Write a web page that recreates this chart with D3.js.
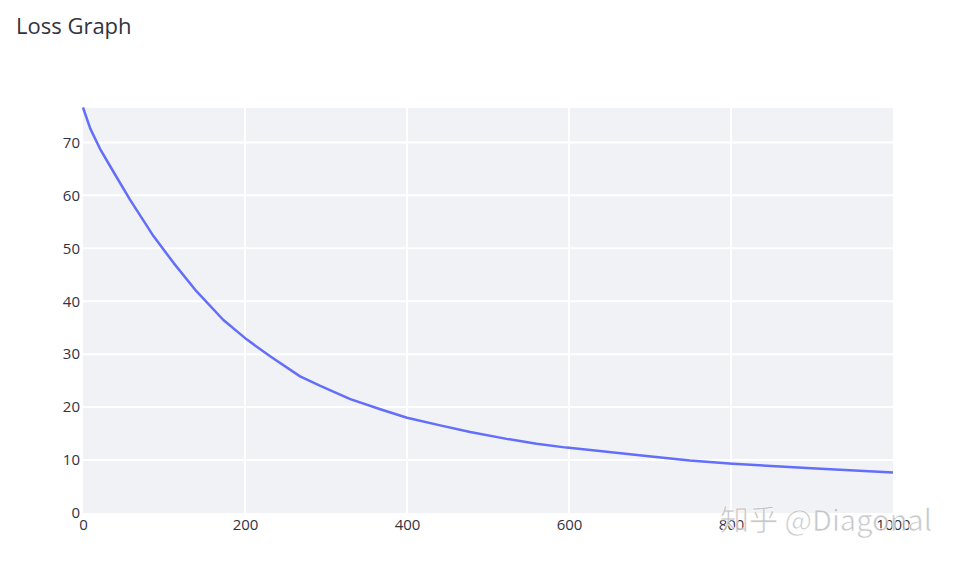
<!DOCTYPE html>
<meta charset="utf-8">
<script src="https://d3js.org/d3.v7.min.js"></script>
<style>
  body { margin: 0; background: #fff; }
  .tick text { font-family: "Open Sans", "Noto Sans", sans-serif; font-size: 15px; fill: #31333f; }
</style>
<div id="chart"></div>
<script>
// Loss values
var epochs = [0, 9, 21, 37, 58, 87, 112, 140, 173, 202, 231, 268, 293, 330, 367, 400, 441, 478, 523, 560, 597, 638, 684, 749, 802, 905, 1000];
var loss = [76.6, 72.6, 68.8, 64.6, 59.2, 52.3, 47.2, 41.9, 36.5, 32.8, 29.6, 25.8, 24.0, 21.5, 19.6, 18.0, 16.55, 15.3, 14.0, 13.1, 12.35, 11.7, 10.95, 9.9, 9.3, 8.4, 7.65];
var xTicks = [0, 200, 400, 600, 800, 1000];
var yTicks = [0, 10, 20, 30, 40, 50, 60, 70];

var W = 956, H = 565;
var margin = { top: 108, left: 83, bottom: 52, right: 63 };
var width = W - margin.left - margin.right;
var height = H - margin.top - margin.bottom;

var x = d3.scaleLinear().domain([0, 1000]).range([0, width]);
var y = d3.scaleLinear().domain([0, 76.5]).range([height, 0]);

var svg = d3.select("#chart").append("svg")
    .attr("width", W)
    .attr("height", H);

svg.append("text")
    .attr("x", 16)
    .attr("y", 34)
    .attr("font-family", "'Open Sans', 'Noto Sans', sans-serif")
    .attr("font-size", 22)
    .attr("fill", "#31333f")
    .text("Loss Graph");

var g = svg.append("g")
    .attr("transform", "translate(" + margin.left + "," + margin.top + ")");

g.append("rect")
    .attr("width", width)
    .attr("height", height)
    .attr("fill", "#f0f2f6");

// grid lines
g.append("g").selectAll("line")
    .data(xTicks.slice(1, -1))
    .join("line")
    .attr("x1", x).attr("x2", x)
    .attr("y1", 0).attr("y2", height)
    .attr("stroke", "#fff").attr("stroke-width", 2);

g.append("g").selectAll("line")
    .data(yTicks.slice(1))
    .join("line")
    .attr("y1", y).attr("y2", y)
    .attr("x1", 0).attr("x2", width)
    .attr("stroke", "#fff").attr("stroke-width", 2);

// axes (labels only)
var xAxis = g.append("g")
    .attr("transform", "translate(0," + height + ")")
    .call(d3.axisBottom(x).tickValues(xTicks).tickFormat(d3.format("d")).tickSize(0).tickPadding(6));
xAxis.select(".domain").remove();

var yAxis = g.append("g")
    .call(d3.axisLeft(y).tickValues(yTicks).tickSize(0).tickPadding(3));
yAxis.select(".domain").remove();

var line = d3.line()
    .x(function(d, i) { return x(epochs[i]); })
    .y(function(d) { return y(d); });

g.append("path")
    .datum(loss)
    .attr("fill", "none")
    .attr("stroke", "#636efa")
    .attr("stroke-width", 2.5)
    .attr("stroke-linejoin", "round")
    .attr("d", line);

// watermark
svg.append("text")
    .attr("x", 720)
    .attr("y", 531)
    .attr("font-family", "'Noto Sans CJK SC', 'Noto Sans', sans-serif")
    .attr("font-size", 29)
    .attr("fill", "#b8b8b8")
    .attr("fill-opacity", 0.8)
    .attr("stroke", "#fff")
    .attr("stroke-width", 0.6)
    .text("知乎 @Diagonal");
</script>
